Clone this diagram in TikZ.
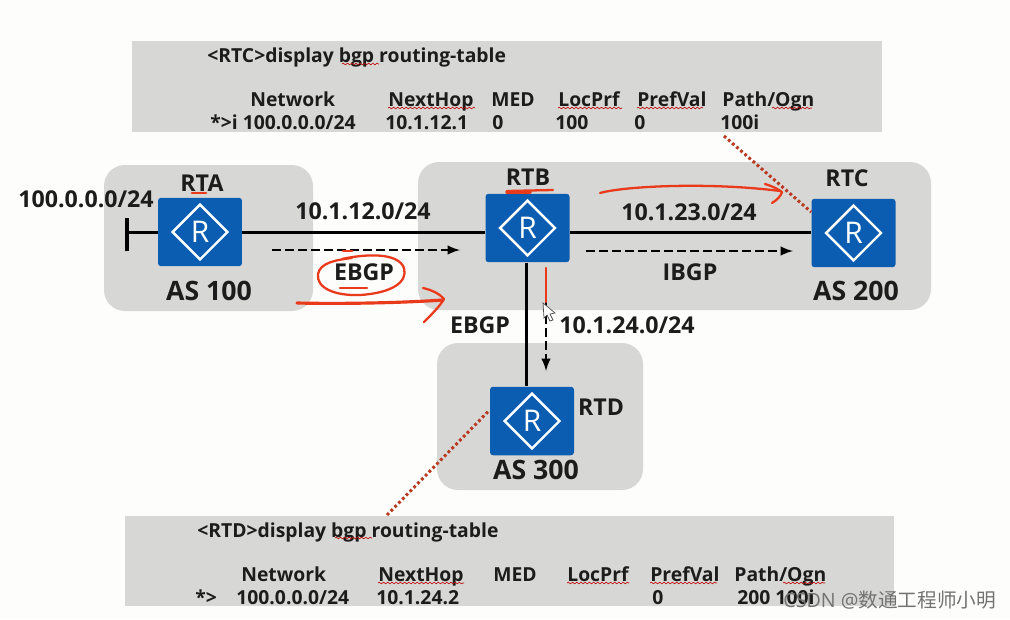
\documentclass[tikz,border=0pt]{standalone}
\usepackage{fontspec}
\setmainfont{Open Sans}
\newfontfamily\cjkfont{Noto Sans CJK SC}
\usetikzlibrary{arrows}
\usetikzlibrary{shapes.geometric}
\usetikzlibrary{decorations.pathmorphing}
\definecolor{paper}{HTML}{FDFDFB}
\definecolor{asgray}{HTML}{D7D7D5}
\definecolor{routerblue}{HTML}{0B5DB2}
\definecolor{inkred}{HTML}{EA3A1C}
\definecolor{dotred}{HTML}{B93A22}
\definecolor{inktext}{HTML}{1C1C1C}
\tikzset{
  asbox/.style={fill=asgray,rounded corners=0.42cm},
  tablebox/.style={fill=asgray},
  routerbox/.style={fill=routerblue,rounded corners=0.06cm,minimum width=1.68cm,minimum height=1.37cm,inner sep=0},
  routermark/.style={diamond,draw=white,line width=1.4pt,text=white,minimum size=1.12cm,inner sep=0,font=\fontsize{17}{17}\selectfont},
  tabletext/.style={anchor=west,inner sep=0,text height=8pt,text depth=0pt,text=inktext,font=\fontsize{11}{12}\selectfont\bfseries},
  linktext/.style={inner sep=0,text height=9.5pt,text depth=0pt,text=inktext,font=\fontsize{13.2}{15}\selectfont\bfseries},
  astext/.style={inner sep=0,text height=11pt,text depth=0pt,text=inktext,font=\fontsize{15.2}{17}\selectfont\bfseries},
  linkline/.style={black,line width=1.9pt},
  bgpline/.style={black,line width=1.4pt,dash pattern=on 5pt off 2.4pt,->,>=latex},
  redink/.style={inkred,line width=1.3pt,line cap=round,line join=round},
  reddots/.style={dotred,line width=1.7pt,dash pattern=on 1.6pt off 1.5pt},
  squiggle/.style={red!75!black,line width=0.35pt,decorate,decoration={snake,amplitude=0.45pt,segment length=2.4pt}}
}
\begin{document}
\begin{tikzpicture}[x=0.02cm,y=-0.02cm]
  \useasboundingbox (0,0) rectangle (1010,619);
  \fill [paper] (0,0) rectangle (1010,619);

  % the three AS areas
  \fill [asbox] (104,165) rectangle (313,311);
  \fill [asbox] (418,162) rectangle (931,310);
  \fill [asbox] (437,343) rectangle (643,490);

  % routing tables
  \fill [tablebox] (132,41) rectangle (882,132);
  \fill [tablebox] (125,516) rectangle (894,606);

  % routers
  \node [routerbox] (rta) at (200,232) {};
  \node [routermark] (rtamark) at (rta) {R};
  \node [routerbox] (rtb) at (527.5,228) {};
  \node [routermark] (rtbmark) at (rtb) {R};
  \node [routerbox] (rtc) at (853.5,233) {};
  \node [routermark] (rtcmark) at (rtc) {R};
  \node [routerbox] (rtd) at (532,421) {};
  \node [routermark] (rtdmark) at (rtd) {R};

  % links
  \coordinate (stub) at (127,232.5);
  \coordinate (stubtop) at (127,218);
  \coordinate (stubbot) at (127,251);
  \draw [linkline] (stubtop) -- (stubbot);
  \draw [linkline] (stub) -- (rta.west |- stub);
  \draw [linkline] (rta.east |- stub) -- (rtb.west |- stub);
  \draw [linkline] (rtb.east |- stub) -- (rtc.west |- stub);
  \draw [linkline] (rtb.south) ++(-1,0) coordinate (rtbfoot) -- (rtbfoot |- rtd.north);

  % bgp update direction
  \coordinate (ebgpfrom) at (272,250);
  \coordinate (ebgpto) at (460,250);
  \coordinate (ibgpfrom) at (586,251);
  \coordinate (ibgpto) at (793,251);
  \coordinate (downfrom) at (546,268);
  \coordinate (downmid) at (546,302);
  \coordinate (downto) at (546,371);
  \draw [bgpline] (ebgpfrom) -- (ebgpto);
  \draw [bgpline] (ibgpfrom) -- (ibgpto);
  \draw [bgpline] (downmid) -- (downto);
  \draw [redink] (downfrom) -- (downmid);

  % dotted pointers
  \coordinate (tabcfoot) at (724,136);
  \coordinate (tabdtop) at (387,515);
  \draw [reddots] (tabcfoot) -- (rtc.west |- 0,212);
  \draw [reddots] (tabdtop) -- (rtd.west |- 0,410);

  % labels
  \node [linktext,anchor=west] (stubnet) at (18,199) {100.0.0.0/24};
  \node [linktext] (namea) at (202,183) {RTA};
  \node [linktext] (nameb) at (528,177) {RTB};
  \node [linktext] (namec) at (847,178) {RTC};
  \node [linktext] (named) at (601,407) {RTD};
  \node [linktext] (netab) at (363,211) {10.1.12.0/24};
  \node [linktext] (netbc) at (689,212) {10.1.23.0/24};
  \node [linktext] (netbd) at (627,325) {10.1.24.0/24};
  \node [linktext] (ebgpab) at (364,272) {EBGP};
  \node [linktext] (ibgpbc) at (690,272) {IBGP};
  \node [linktext] (ebgpbd) at (480,325) {EBGP};
  \node [astext] (as100) at (209,291) {AS 100};
  \node [astext] (as200) at (856,291) {AS 200};
  \node [astext] (as300) at (536,470) {AS 300};

  % table of RTC
  \node [tabletext] (ctitle) at (207,55) {<RTC>display bgp routing-table};
  \node [tabletext] (cnet) at (250,99) {Network};
  \node [tabletext] (chop) at (388,99) {NextHop};
  \node [tabletext] (cmed) at (491,99) {MED};
  \node [tabletext] (cloc) at (558,99) {LocPrf};
  \node [tabletext] (cpref) at (637,99) {PrefVal};
  \node [tabletext] (cpath) at (722,99) {Path/Ogn};
  \node [tabletext] (crow) at (210,122) {*>i 100.0.0.0/24};
  \node [tabletext] (crowhop) at (385,122) {10.1.12.1};
  \node [tabletext] (crowmed) at (492,122) {0};
  \node [tabletext] (crowloc) at (555,122) {100};
  \node [tabletext] (crowpref) at (634,122) {0};
  \node [tabletext] (crowpath) at (720,122) {100i};

  % table of RTD
  \node [tabletext] (dtitle) at (197,530) {<RTD>display bgp routing-table};
  \node [tabletext] (dnet) at (241,574) {Network};
  \node [tabletext] (dhop) at (378,574) {NextHop};
  \node [tabletext] (dmed) at (493,574) {MED};
  \node [tabletext] (dloc) at (567,574) {LocPrf};
  \node [tabletext] (dpref) at (650,574) {PrefVal};
  \node [tabletext] (dpath) at (734,574) {Path/Ogn};
  \node [tabletext] (drowflag) at (195,597) {*>};
  \node [tabletext] (drow) at (236,597) {100.0.0.0/24};
  \node [tabletext] (drowhop) at (376,597) {10.1.24.2};
  \node [tabletext] (drowpref) at (652,597) {0};
  \node [tabletext] (drowpath) at (737,597) {200 100i};

  % spell check marks
  \draw [squiggle] (342,64) -- (379,64);
  \draw [squiggle] (388,108) -- (475,108);
  \draw [squiggle] (558,108) -- (622,108);
  \draw [squiggle] (637,108) -- (703,108);
  \draw [squiggle] (772,108) -- (812,108);
  \draw [squiggle] (335,538) -- (372,538);
  \draw [squiggle] (378,583) -- (464,583);
  \draw [squiggle] (567,583) -- (629,583);
  \draw [squiggle] (650,583) -- (717,583);
  \draw [squiggle] (783,583) -- (825,583);

  % pen marks
  \draw [redink,line width=1.6pt] (192,193) -- (206,193);
  \draw [redink] (507,191) -- (553,190);
  \draw [redink,line width=2pt] (507,192) -- (530,192);
  \draw [redink,line width=1.6pt] (343,251) -- (352,251);
  \draw [redink] (342,259) .. controls (365,254) and (398,252) .. (404,268)
    .. controls (408,282) and (392,293) .. (360,295)
    .. controls (335,296) and (316,288) .. (318,274)
    .. controls (320,263) and (335,260) .. (352,258);
  \draw [redink] (340,288) -- (367,288);
  \draw [redink,line width=1.8pt] (297,303) .. controls (340,304) and (400,303) .. (443,300);
  \draw [redink] (423,288) .. controls (432,290) and (440,294) .. (444,299) .. controls (440,306) and (432,314) .. (424,322);
  \draw [redink] (600,193) .. controls (625,186) and (710,182) .. (780,191);
  \draw [redink] (765,184) .. controls (772,186) and (778,189) .. (782,192) .. controls (781,196) and (777,200) .. (772,203);

  % mouse pointer
  \draw [fill=white,draw=black!70,line width=0.4pt] (543,303) -- (555,313) -- (550,314) -- (553,320) -- (550,321) -- (547,315) -- (544,318) -- cycle;

  % watermark
  \node [anchor=west,inner sep=0,text=black!55,font=\fontsize{11.2}{14}\selectfont] (mark) at (783,600) {CSDN @{\cjkfont 数通工程师小明}};
\end{tikzpicture}
\end{document}
